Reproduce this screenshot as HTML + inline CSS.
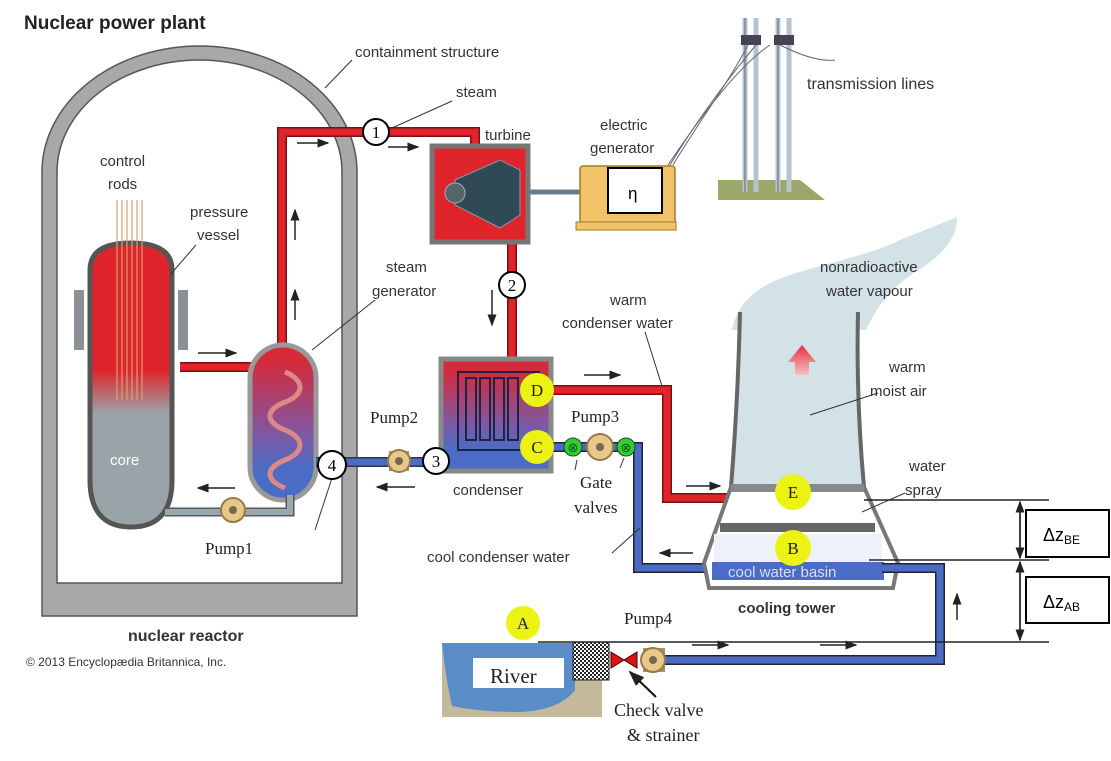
<!DOCTYPE html>
<html><head><meta charset="utf-8"><style>
html,body{margin:0;padding:0;background:#fff;}
svg{display:block;}
text{font-family:"Liberation Sans",sans-serif;}
.s{font-family:"Liberation Serif",serif;}
</style></head><body>
<svg width="1111" height="761" viewBox="0 0 1111 761" xmlns="http://www.w3.org/2000/svg">
<defs>
<linearGradient id="rb" x1="0" y1="0" x2="0" y2="1"><stop offset="0.1" stop-color="#d42a3a"/><stop offset="0.6" stop-color="#7a5aa8"/><stop offset="0.8" stop-color="#4a6cc4"/></linearGradient>
<linearGradient id="vs" x1="0" y1="0" x2="0" y2="1"><stop offset="0.45" stop-color="#e0242c"/><stop offset="0.6" stop-color="#9aa4a8"/></linearGradient>
<linearGradient id="ar" x1="0" y1="0" x2="0" y2="1"><stop offset="0" stop-color="#e83040"/><stop offset="1" stop-color="#f4c0c4"/></linearGradient>
<pattern id="chk" width="4" height="4" patternUnits="userSpaceOnUse"><rect width="4" height="4" fill="#fff"/><rect width="2" height="2" fill="#222"/><rect x="2" y="2" width="2" height="2" fill="#222"/></pattern>
<marker id="ah" markerWidth="8" markerHeight="8" refX="7" refY="4" orient="auto"><path d="M0,1 L8,4 L0,7Z" fill="#222"/></marker>
</defs>

<text x="24" y="29" font-size="19" font-weight="bold" fill="#222">Nuclear power plant</text>

<!-- containment -->
<path fill-rule="evenodd" fill="#a8a8a8" stroke="#555" stroke-width="1.5" d="M42 616 V172 A157.5 126 0 0 1 357 172 V616Z M57 583 V172 A142.5 112 0 0 1 342 172 V583Z"/>

<!-- cloud -->
<path d="M732 330 C738 300 760 285 790 275 C830 262 870 255 900 240 C925 230 945 222 957 217 C958 238 940 258 915 272 C895 286 880 300 866 330 Z" fill="#d3e2e6"/>

<!-- transmission towers -->
<polygon points="718,180 800,180 825,200 718,200" fill="#9aa86a"/>
<g stroke="#b4c4cc" stroke-width="5" fill="none">
<line x1="745" y1="18" x2="745" y2="192"/><line x1="756" y1="18" x2="756" y2="192"/>
<line x1="778" y1="18" x2="778" y2="192"/><line x1="789" y1="18" x2="789" y2="192"/>
</g>
<g stroke="#667" stroke-width="1" fill="none">
<line x1="745" y1="18" x2="745" y2="192"/><line x1="778" y1="18" x2="778" y2="192"/>
<path d="M673 165 C700 120 730 80 748 45"/><path d="M670 165 C700 115 735 70 756 45"/><path d="M668 165 C705 110 740 65 770 45"/>
<path d="M780 45 C800 55 820 62 835 60"/>
</g>
<g fill="#445"><rect x="741" y="35" width="20" height="10"/><rect x="774" y="35" width="20" height="10"/></g>
<text x="807" y="89" font-size="16" fill="#333">transmission lines</text>

<!-- red steam pipe -->
<path d="M282 367 V132 H475 V150" fill="none" stroke="#7a1010" stroke-width="10"/>
<path d="M282 367 V132 H475 V150" fill="none" stroke="#e0242c" stroke-width="7"/>
<path d="M512 240 V360" fill="none" stroke="#7a1010" stroke-width="10"/>
<path d="M512 240 V360" fill="none" stroke="#e0242c" stroke-width="7"/>
<line x1="180" y1="367" x2="285" y2="367" stroke="#7a1010" stroke-width="10"/>
<line x1="180" y1="367" x2="285" y2="367" stroke="#e0242c" stroke-width="7"/>

<!-- turbine -->
<rect x="432" y="146" width="96" height="96" fill="#e0242c" stroke="#777" stroke-width="5"/>
<polygon points="455,180 500,160 520,170 520,215 500,228 455,205" fill="#2f4a55" stroke="#89a" stroke-width="1"/>
<circle cx="455" cy="193" r="10" fill="#566" stroke="#aac"/>
<line x1="528" y1="192" x2="582" y2="192" stroke="#6a7a88" stroke-width="5"/>
<text x="485" y="140" font-size="15" fill="#333">turbine</text>
<text x="456" y="97" font-size="15" fill="#333">steam</text>
<line x1="452" y1="101" x2="392" y2="128" stroke="#333"/>

<!-- generator -->
<rect x="580" y="166" width="95" height="62" fill="#f2c46a" stroke="#a07a30" stroke-width="1.5" rx="3"/>
<rect x="576" y="222" width="100" height="8" fill="#f2c46a" stroke="#a07a30"/>
<rect x="608" y="168" width="54" height="45" fill="#fff" stroke="#000" stroke-width="2"/>
<text x="628" y="199" font-size="17" fill="#000">η</text>
<text x="600" y="130" font-size="15" fill="#333">electric</text>
<text x="590" y="153" font-size="15" fill="#333">generator</text>

<!-- containment label -->
<text x="355" y="57" font-size="15" fill="#333">containment structure</text>
<line x1="352" y1="60" x2="325" y2="88" stroke="#333"/>

<!-- reactor vessel -->
<path d="M90 270 Q90 243 131 243 Q172 243 172 270 V480 Q172 527 131 527 Q90 527 90 480Z" fill="url(#vs)" stroke="#555" stroke-width="5"/>
<rect x="74" y="290" width="10" height="60" fill="#8a9296"/><rect x="178" y="290" width="10" height="60" fill="#8a9296"/>
<g stroke="#d9a070" stroke-width="1.2">
<line x1="117" y1="200" x2="117" y2="400"/><line x1="122" y1="200" x2="122" y2="400"/><line x1="127" y1="200" x2="127" y2="400"/><line x1="132" y1="200" x2="132" y2="400"/><line x1="137" y1="200" x2="137" y2="400"/><line x1="142" y1="200" x2="142" y2="400"/>
</g>
<text x="110" y="465" font-size="15" fill="#fff">core</text>
<text x="100" y="166" font-size="15" fill="#333">control</text>
<text x="108" y="189" font-size="15" fill="#333">rods</text>
<text x="190" y="217" font-size="15" fill="#333">pressure</text>
<text x="197" y="240" font-size="15" fill="#333">vessel</text>
<line x1="196" y1="245" x2="170" y2="275" stroke="#333"/>

<!-- steam generator -->
<rect x="250" y="345" width="66" height="155" rx="33" fill="url(#rb)" stroke="#999" stroke-width="5"/>
<path d="M285 372 C305 380 305 395 285 402 C265 410 265 422 285 430 C305 438 305 452 285 460 C265 468 265 480 285 488" fill="none" stroke="#d88" stroke-width="5"/>
<path d="M290 495 V512 H165" fill="none" stroke="#556" stroke-width="9"/>
<path d="M290 495 V512 H165" fill="none" stroke="#9aaaa8" stroke-width="6"/>
<text x="386" y="272" font-size="15" fill="#333">steam</text>
<text x="372" y="296" font-size="15" fill="#333">generator</text>
<line x1="375" y1="300" x2="312" y2="350" stroke="#333"/>

<!-- pump1 -->
<circle cx="233" cy="510" r="12" fill="#e8c888" stroke="#9a7a4a" stroke-width="2"/><circle cx="233" cy="510" r="4" fill="#765"/>
<text x="205" y="554" font-size="17" class="s" fill="#222">Pump1</text>

<!-- blue pipe 4-3 -->
<line x1="316" y1="462" x2="440" y2="462" stroke="#334" stroke-width="10"/>
<line x1="316" y1="462" x2="440" y2="462" stroke="#4a6cc4" stroke-width="7"/>
<rect x="389" y="451" width="20" height="20" fill="#b09060"/>
<circle cx="399" cy="461" r="11" fill="#e8c888" stroke="#9a7a4a" stroke-width="2"/><circle cx="399" cy="461" r="4" fill="#765"/>
<text x="370" y="423" font-size="17" class="s" fill="#222">Pump2</text>
<line x1="332" y1="478" x2="315" y2="530" stroke="#333"/>

<!-- condenser -->
<rect x="441" y="359" width="110" height="112" fill="url(#rb)" stroke="#888" stroke-width="5"/>
<path d="M540 372 H458 V450 H540" fill="none" stroke="#224" stroke-width="2"/>
<g fill="none" stroke="#224" stroke-width="2"><rect x="466" y="378" width="10" height="62"/><rect x="480" y="378" width="10" height="62"/><rect x="494" y="378" width="10" height="62"/><rect x="508" y="378" width="10" height="62"/></g>
<text x="453" y="495" font-size="15" fill="#333">condenser</text>

<!-- circles numbered -->
<g font-size="17" class="s" text-anchor="middle">
<circle cx="376" cy="132" r="13" fill="#fff" stroke="#000" stroke-width="2"/><text x="376" y="138" class="s">1</text>
<circle cx="512" cy="285" r="13" fill="#fff" stroke="#000" stroke-width="2"/><text x="512" y="291" class="s">2</text>
<circle cx="436" cy="461" r="13" fill="#fff" stroke="#000" stroke-width="2"/><text x="436" y="467" class="s">3</text>
<circle cx="332" cy="465" r="14" fill="#fff" stroke="#000" stroke-width="2"/><text x="332" y="471" class="s">4</text>
</g>

<!-- warm pipe D->E -->
<path d="M545 390 H667 V498 H864" fill="none" stroke="#7a1010" stroke-width="10"/>
<path d="M545 390 H667 V498 H864" fill="none" stroke="#e0242c" stroke-width="7"/>
<text x="610" y="305" font-size="15" fill="#333">warm</text>
<text x="562" y="328" font-size="15" fill="#333">condenser water</text>
<line x1="645" y1="332" x2="662" y2="386" stroke="#333"/>

<!-- cool pipe C -> basin -->
<path d="M545 447 H638 V568 H715" fill="none" stroke="#223" stroke-width="10"/>
<path d="M545 447 H638 V568 H715" fill="none" stroke="#4a6cc4" stroke-width="7"/>
<circle cx="573" cy="447" r="9" fill="#3c3" stroke="#151"/><text x="573" y="452" font-size="13" text-anchor="middle" fill="#151">⊗</text>
<circle cx="626" cy="447" r="9" fill="#3c3" stroke="#151"/><text x="626" y="452" font-size="13" text-anchor="middle" fill="#151">⊗</text>
<circle cx="600" cy="447" r="13" fill="#e8c888" stroke="#9a7a4a" stroke-width="2"/><circle cx="600" cy="447" r="4" fill="#765"/>
<text x="571" y="422" font-size="17" class="s" fill="#222">Pump3</text>
<text x="580" y="488" font-size="17" class="s" fill="#222">Gate</text>
<text x="574" y="513" font-size="17" class="s" fill="#222">valves</text>
<line x1="575" y1="470" x2="577" y2="460" stroke="#333"/><line x1="620" y1="468" x2="624" y2="458" stroke="#333"/>
<text x="427" y="562" font-size="15" fill="#333">cool condenser water</text>
<line x1="612" y1="553" x2="640" y2="528" stroke="#333"/>

<!-- cooling tower -->
<path d="M740 312 Q738 400 731 487 L864 487 Q856 400 858 312Z" fill="#d3e2e6"/>
<path d="M740 312 Q738 400 731 487" fill="none" stroke="#666" stroke-width="4"/>
<path d="M858 312 Q856 400 864 487" fill="none" stroke="#666" stroke-width="4"/>
<polygon points="731,487 864,487 898,563 893,588 709,588 704,563" fill="#fff" stroke="#777" stroke-width="4"/>
<rect x="731" y="484" width="133" height="8" fill="#888"/>
<rect x="720" y="523" width="155" height="9" fill="#666"/>
<rect x="714" y="534" width="168" height="28" fill="#eef2f8"/>
<rect x="712" y="562" width="172" height="18" fill="#4a6cc4"/>
<text x="728" y="577" font-size="15" fill="#dde">cool water basin</text>
<path d="M805 375 L795 375 L795 362 L788 362 L802 345 L816 362 L809 362 L809 375Z" fill="url(#ar)"/>
<text x="889" y="372" font-size="15" fill="#333">warm</text>
<text x="870" y="396" font-size="15" fill="#333">moist air</text>
<line x1="878" y1="393" x2="810" y2="415" stroke="#333"/>
<text x="909" y="471" font-size="15" fill="#333">water</text>
<text x="905" y="495" font-size="15" fill="#333">spray</text>
<line x1="905" y1="493" x2="862" y2="512" stroke="#333"/>
<text x="738" y="613" font-size="15" font-weight="bold" fill="#333">cooling tower</text>
<text x="820" y="272" font-size="15" fill="#333">nonradioactive</text>
<text x="826" y="296" font-size="15" fill="#333">water vapour</text>

<!-- right blue pipe -->
<path d="M882 568 H940 V660 H655" fill="none" stroke="#223" stroke-width="10"/>
<path d="M882 568 H940 V660 H655" fill="none" stroke="#4a6cc4" stroke-width="7"/>

<!-- river -->
<rect x="442" y="643" width="160" height="74" fill="#c4b99a"/>
<path d="M442 643 H575 V690 Q560 710 520 712 Q480 712 452 706 Q446 680 442 643Z" fill="#5a8cc8"/>
<rect x="473" y="658" width="91" height="30" fill="#fff"/>
<text x="490" y="683" font-size="21" class="s" fill="#222">River</text>
<rect x="573" y="642" width="36" height="38" fill="url(#chk)" stroke="#222"/>
<polygon points="611,652 624,660 611,668" fill="#e01010" stroke="#400"/><polygon points="637,652 624,660 637,668" fill="#e01010" stroke="#400"/>
<rect x="643" y="648" width="22" height="24" fill="#b09060"/>
<circle cx="653" cy="660" r="12" fill="#e8c888" stroke="#9a7a4a" stroke-width="2"/><circle cx="653" cy="660" r="4" fill="#765"/>
<text x="624" y="624" font-size="17" class="s" fill="#222">Pump4</text>
<text x="614" y="716" font-size="18" class="s" fill="#222">Check valve</text>
<text x="627" y="741" font-size="18" class="s" fill="#222">&amp; strainer</text>
<line x1="656" y1="697" x2="630" y2="672" stroke="#111" stroke-width="2" marker-end="url(#ah)"/>

<!-- yellow letters -->
<g font-size="17" class="s" text-anchor="middle" fill="#222">
<circle cx="537" cy="390" r="17" fill="#ebf214"/><text x="537" y="396" class="s">D</text>
<circle cx="537" cy="447" r="17" fill="#ebf214"/><text x="537" y="453" class="s">C</text>
<circle cx="793" cy="492" r="18" fill="#ebf214"/><text x="793" y="498" class="s">E</text>
<circle cx="793" cy="548" r="18" fill="#ebf214"/><text x="793" y="554" class="s">B</text>
<circle cx="523" cy="623" r="17" fill="#ebf214"/><text x="523" y="629" class="s">A</text>
</g>

<!-- datum lines -->
<g stroke="#222" stroke-width="1.5">
<line x1="864" y1="500" x2="1049" y2="500"/>
<line x1="869" y1="560" x2="1049" y2="560"/>
<line x1="538" y1="642" x2="1049" y2="642"/>
<line x1="1020" y1="502" x2="1020" y2="558" marker-end="url(#ah)"/>
<line x1="1020" y1="558" x2="1020" y2="502" marker-end="url(#ah)"/>
<line x1="1020" y1="562" x2="1020" y2="640" marker-end="url(#ah)"/>
<line x1="1020" y1="640" x2="1020" y2="562" marker-end="url(#ah)"/>
</g>
<rect x="1026" y="510" width="83" height="47" fill="#fff" stroke="#000" stroke-width="2"/>
<rect x="1026" y="577" width="83" height="46" fill="#fff" stroke="#000" stroke-width="2"/>
<text x="1043" y="541" font-size="18" fill="#000">Δz<tspan font-size="12" dy="3">BE</tspan></text>
<text x="1043" y="608" font-size="18" fill="#000">Δz<tspan font-size="12" dy="3">AB</tspan></text>

<!-- flow arrows -->
<g stroke="#222" stroke-width="1.5" marker-end="url(#ah)">
<line x1="297" y1="143" x2="328" y2="143"/>
<line x1="388" y1="147" x2="418" y2="147"/>
<line x1="295" y1="320" x2="295" y2="290"/>
<line x1="295" y1="240" x2="295" y2="210"/>
<line x1="198" y1="353" x2="236" y2="353"/>
<line x1="235" y1="488" x2="198" y2="488"/>
<line x1="415" y1="487" x2="377" y2="487"/>
<line x1="492" y1="290" x2="492" y2="325"/>
<line x1="584" y1="375" x2="620" y2="375"/>
<line x1="686" y1="486" x2="720" y2="486"/>
<line x1="693" y1="553" x2="660" y2="553"/>
<line x1="692" y1="645" x2="728" y2="645"/>
<line x1="820" y1="645" x2="856" y2="645"/>
<line x1="957" y1="620" x2="957" y2="594"/>
</g>

<text x="128" y="641" font-size="16" font-weight="bold" fill="#333">nuclear reactor</text>
<text x="26" y="666" font-size="12" fill="#333">© 2013 Encyclopædia Britannica, Inc.</text>
</svg>
</body></html>
